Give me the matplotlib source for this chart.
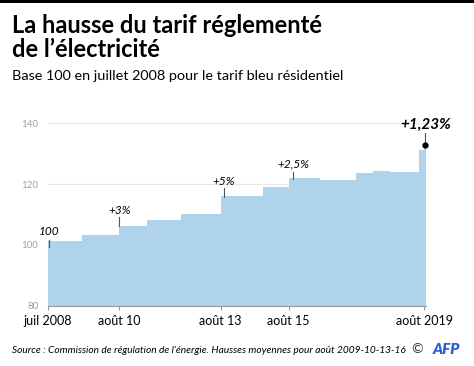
import matplotlib
matplotlib.use("Agg")
import matplotlib.pyplot as plt
import numpy as np

# ---- data (months since July 2008, index value) ----
step_months = [0, 12, 25, 35, 47, 61, 76, 85, 96, 109, 115, 121, 131, 133]
step_values = [101.2, 103.2, 106.3, 108.2, 110.3, 116.1, 119.0, 122.1, 121.3, 123.6, 124.3, 124.0, 131.2, 132.6]
end_month = 133.5

tick_months = [0, 25, 61, 85, 133]
tick_labels = ["juil 2008", "août 10", "août 13", "août 15", "août 2019"]
y_ticks = [80, 100, 120, 140]

ann_texts = ["100", "+3%", "+5%", "+2,5%", "+1,23%"]
ann_x = [0.3, 25.2, 62.2, 86.7, 133.6]
ann_text_y = [104.3, 111.3, 121.0, 126.6, 139.4]
ann_tick_lo = [99.3, 106.2, 115.9, 121.6, 133.4]
ann_tick_hi = [101.6, 109.3, 118.6, 124.1, 136.7]

FONT = "Lato"
W, H = 474, 366
fig = plt.figure(figsize=(W / 100, H / 100), dpi=100)

# top black bar
fig.add_artist(plt.Rectangle((0, 1 - 3.3 / H), 1, 3.3 / H, transform=fig.transFigure,
                             color="black", lw=0))

fig.text(12 / W, 1 - 33 / H, "La hausse du tarif réglementé",
         fontsize=17, fontweight="bold", family=FONT, va="baseline", ha="left")
fig.text(12 / W, 1 - 57 / H, "de l’électricité",
         fontsize=17, fontweight="bold", family=FONT, va="baseline", ha="left")
fig.text(12 / W, 1 - 80 / H, "Base 100 en juillet 2008 pour le tarif bleu résidentiel",
         fontsize=10.4, family=FONT, va="baseline", ha="left")

left, right = 48.1 / W, 426 / W
bottom, top = 1 - 305.7 / H, 1 - 123.3 / H
ax = fig.add_axes([left, bottom, right - left, top - bottom])

xs = list(step_months) + [end_month]
ys = list(step_values) + [step_values[-1]]
ax.fill_between(xs, 80, ys, step="post", color="#aed3eb", lw=0, zorder=2)

ax.set_xlim(0, 133.6)
ax.set_ylim(80, 140)
ax.set_yticks(y_ticks)
ax.set_yticklabels([str(v) for v in y_ticks], color="#a0a0a0", fontsize=7, family=FONT)
ax.tick_params(axis="y", length=0, pad=7)
ax.grid(axis="y", color="#e8e8e8", lw=0.8, zorder=0)
ax.set_xticks(tick_months)
ax.set_xticklabels(tick_labels, fontsize=9, family=FONT)
ax.tick_params(axis="x", length=3, color="#999999", width=0.8, pad=4)
for s in ["top", "right", "left"]:
    ax.spines[s].set_visible(False)
ax.spines["bottom"].set_color("#999999")
ax.spines["bottom"].set_linewidth(0.8)
ax.spines["bottom"].set_zorder(3)

for i, t in enumerate(ann_texts):
    last = i == len(ann_texts) - 1
    ax.plot([ann_x[i] - (0.3 if last else 0), ann_x[i] - (0.3 if last else 0)],
            [ann_tick_lo[i], ann_tick_hi[i]], color="#555555", lw=0.8, zorder=4,
            clip_on=False)
    ax.text(ann_x[i], ann_text_y[i], t, ha="center", va="center",
            fontsize=11 if last else 8.5, fontweight="bold" if last else "normal",
            style="italic", family=FONT, clip_on=False, zorder=5)
ax.plot([133.3], [132.9], "o", color="black", ms=3.5, zorder=6, clip_on=False)

fig.text(12 / W, 1 - 350.5 / H,
         "Source : Commission de régulation de l'énergie. Hausses moyennes pour août 2009-10-13-16",
         fontsize=7.3, style="italic", family=FONT, va="center", ha="left")
fig.text(417 / W, 1 - 349 / H, "©", fontsize=10, family=FONT, va="center", ha="center",
         color="#333333")
fig.text(446 / W, 1 - 349 / H, "AFP", fontsize=11, family=FONT, fontweight="heavy",
         style="italic", va="center", ha="center", color="#2d5fd3")

fig.savefig("out.png", dpi=100)
